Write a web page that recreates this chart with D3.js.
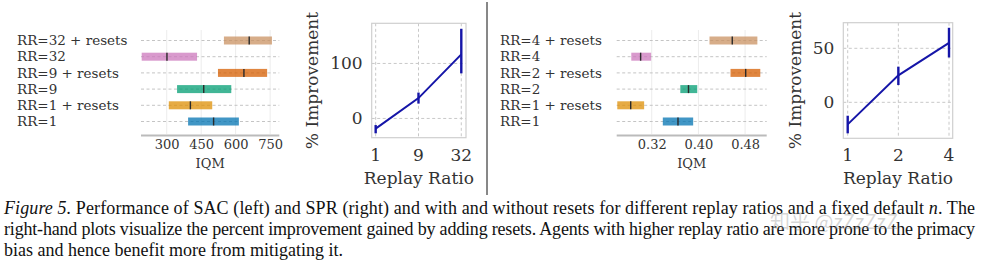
<!DOCTYPE html>
<html>
<head>
<meta charset="utf-8">
<script src="https://cdn.jsdelivr.net/npm/d3@7"></script>
<style>
  body { margin: 0; background: #fff; }
</style>
</head>
<body>
<svg id="chart" width="981" height="265"></svg>
<script>
// ---- data (rows listed top to bottom) ----
const sacLabels = ["RR=32 + resets", "RR=32", "RR=9 + resets", "RR=9", "RR=1 + resets", "RR=1"];
const sacLow    = [549, 191, 523, 345, 309, 393];
const sacMed    = [659, 301, 636, 461, 403, 504];
const sacHigh   = [758, 432, 737, 581, 498, 614];
const sacTicks  = [300, 450, 600, 750];

const sprLabels = ["RR=4 + resets", "RR=4", "RR=2 + resets", "RR=2", "RR=1 + resets", "RR=1"];
const sprLow    = [0.419, 0.285, 0.455, 0.369, 0.261, 0.339];
const sprMed    = [0.458, 0.301, 0.481, 0.383, 0.284, 0.365];
const sprHigh   = [0.501, 0.319, 0.506, 0.398, 0.307, 0.391];
const sprTicks  = [0.32, 0.40, 0.48];

// colours per row, top to bottom
const rowColors = ["#ca9161", "#cc78bc", "#d55e00", "#029e73", "#de8f05", "#0173b2"];

const sacRatios   = ["1", "9", "32"];
const sacImpMean  = [-18.5, 37, 116.5];
const sacImpLow   = [-27, 27, 82];
const sacImpHigh  = [-12, 47, 163];
const sacImpTicks = [0, 100];

const sprRatios   = ["1", "2", "4"];
const sprImpMean  = [-20.4, 25, 55];
const sprImpLow   = [-28.7, 16, 41.5];
const sprImpHigh  = [-12.4, 33, 69];
const sprImpTicks = [0, 50];

// caption lines: [text, italic] pieces
const captionLines = [
    [["Figure 5.", true], [" Performance of SAC (left) and SPR (right) and with and without resets for different replay ratios and a fixed default ", false], ["n", true], [". The", false]],
    [["right-hand plots visualize the percent improvement gained by adding resets. Agents with higher replay ratio are more prone to the primacy", false]],
    [["bias and hence benefit more from mitigating it.", false]]
];

const svg = d3.select("#chart");
const serif = "DejaVu Serif, serif";

// interval (IQM) panel
function drawIQM(opt) {
    const g = svg.append("g");
    const x = d3.scaleLinear().domain(opt.domain).range([opt.left, opt.right]);
    const y = d3.scalePoint().domain(opt.labels).range([40.5, 121.5]);

    // faint vertical grid
    g.selectAll(".vgrid").data(opt.ticks).join("line")
        .attr("x1", d => x(d)).attr("x2", d => x(d))
        .attr("y1", 30).attr("y2", 134)
        .attr("stroke", "#ececec").attr("stroke-width", 1);

    // dashed row guides
    g.selectAll(".row").data(opt.labels).join("line")
        .attr("x1", opt.left).attr("x2", opt.right)
        .attr("y1", d => y(d)).attr("y2", d => y(d))
        .attr("stroke", "#bdbdbd").attr("stroke-dasharray", "3,2.5").attr("stroke-width", 0.9);

    // bars
    g.selectAll(".bar").data(opt.labels).join("rect")
        .attr("x", (d, i) => x(opt.low[i]))
        .attr("y", d => y(d) - 4)
        .attr("width", (d, i) => x(opt.high[i]) - x(opt.low[i]))
        .attr("height", 8)
        .attr("fill", (d, i) => rowColors[i])
        .attr("fill-opacity", 0.75);

    // medians
    g.selectAll(".med").data(opt.labels).join("line")
        .attr("x1", (d, i) => x(opt.med[i])).attr("x2", (d, i) => x(opt.med[i]))
        .attr("y1", d => y(d) - 4).attr("y2", d => y(d) + 4)
        .attr("stroke", "#2a2a2a").attr("stroke-width", 1.4);

    // row labels, left aligned
    g.selectAll(".lab").data(opt.labels).join("text")
        .attr("x", opt.labelX).attr("y", d => y(d)).attr("dy", "0.35em")
        .attr("font-family", serif).attr("font-size", 13.5).attr("fill", "#333")
        .text(d => d);

    // bottom axis
    const ax = g.append("g").attr("transform", "translate(0,135.5)")
        .call(d3.axisBottom(x).tickValues(opt.ticks).tickFormat(opt.fmt).tickSize(0).tickPadding(4));
    ax.select(".domain").attr("stroke", "#bbb").attr("stroke-width", 2)
        .attr("d", `M${opt.left},0H${opt.right}`);
    ax.selectAll("text").attr("font-family", serif).attr("font-size", 13).attr("fill", "#333");

    g.append("text")
        .attr("x", (opt.left + opt.right) / 2).attr("y", 163).attr("dy", "0.35em")
        .attr("text-anchor", "middle")
        .attr("font-family", serif).attr("font-size", 13).attr("fill", "#333")
        .text("IQM");
}

// percent improvement panel
function drawImp(opt) {
    const g = svg.append("g");
    const x = d3.scaleLinear().domain(opt.xdom).range([opt.left, opt.right]);
    const y = d3.scaleLinear().domain(opt.ydom).range([opt.bottom, opt.top]);
    const idx = opt.ratios.map((d, i) => i);

    g.selectAll(".vg").data(idx).join("line")
        .attr("x1", d => x(d)).attr("x2", d => x(d))
        .attr("y1", opt.top).attr("y2", opt.bottom)
        .attr("stroke", "#c8c8c8").attr("stroke-dasharray", "3,2.5");
    g.selectAll(".hg").data(opt.yticks).join("line")
        .attr("x1", opt.left).attr("x2", opt.right)
        .attr("y1", d => y(d)).attr("y2", d => y(d))
        .attr("stroke", "#c8c8c8").attr("stroke-dasharray", "3,2.5");

    g.append("rect")
        .attr("x", opt.left).attr("y", opt.top)
        .attr("width", opt.right - opt.left).attr("height", opt.bottom - opt.top)
        .attr("fill", "none").attr("stroke", "#cfcfcf").attr("stroke-width", 1.2);

    const line = d3.line().x(d => x(d)).y(d => y(opt.mean[d]));
    g.append("path").datum(idx)
        .attr("d", line).attr("fill", "none")
        .attr("stroke", "#1515a8").attr("stroke-width", 2);

    g.selectAll(".err").data(idx).join("line")
        .attr("x1", d => x(d)).attr("x2", d => x(d))
        .attr("y1", d => y(opt.low[d])).attr("y2", d => y(opt.high[d]))
        .attr("stroke", "#1515a8").attr("stroke-width", 2.4);

    g.selectAll(".yt").data(opt.yticks).join("text")
        .attr("x", opt.left - 9).attr("y", d => y(d)).attr("dy", "0.35em")
        .attr("text-anchor", "end")
        .attr("font-family", serif).attr("font-size", 17).attr("fill", "#333")
        .text(d => d);
    g.selectAll(".xt").data(idx).join("text")
        .attr("x", d => x(d)).attr("y", 155).attr("dy", "0.35em")
        .attr("text-anchor", "middle")
        .attr("font-family", serif).attr("font-size", 17).attr("fill", "#333")
        .text(d => opt.ratios[d]);

    g.append("text")
        .attr("x", (opt.left + opt.right) / 2).attr("y", 178).attr("dy", "0.35em")
        .attr("text-anchor", "middle")
        .attr("font-family", serif).attr("font-size", 17).attr("fill", "#333")
        .text("Replay Ratio");
    g.append("text")
        .attr("transform", `translate(${opt.ylabX},${(opt.top + opt.bottom) / 2}) rotate(-90)`)
        .attr("dy", "0.35em").attr("text-anchor", "middle")
        .attr("font-family", serif).attr("font-size", 17).attr("fill", "#333")
        .text("% Improvement");
}

drawIQM({ labels: sacLabels, low: sacLow, med: sacMed, high: sacHigh, ticks: sacTicks,
          domain: [188, 790], left: 141, right: 279.3, labelX: 17, fmt: d3.format("d") });
drawIQM({ labels: sprLabels, low: sprLow, med: sprMed, high: sprHigh, ticks: sprTicks,
          domain: [0.26, 0.517], left: 616.7, right: 766.7, labelX: 500, fmt: d3.format(".2f") });

drawImp({ ratios: sacRatios, mean: sacImpMean, low: sacImpLow, high: sacImpHigh, yticks: sacImpTicks,
          xdom: [-0.093, 2.11], ydom: [-35, 173], left: 371.7, right: 466, top: 23.3, bottom: 137.7, ylabX: 312 });
drawImp({ ratios: sprRatios, mean: sprImpMean, low: sprImpLow, high: sprImpHigh, yticks: sprImpTicks,
          xdom: [-0.087, 2.073], ydom: [-33.3, 73.7], left: 843.3, right: 952.7, top: 22.7, bottom: 138.3, ylabX: 795 });

// divider between the two halves
svg.append("line").attr("x1", 487).attr("x2", 487).attr("y1", 2).attr("y2", 195)
    .attr("stroke", "#111").attr("stroke-width", 1);

// caption, first two lines justified to full width
const cap = svg.append("g")
    .attr("font-family", "Liberation Serif, Times New Roman, serif")
    .attr("font-size", 18).attr("fill", "#111");
captionLines.forEach((pieces, li) => {
    const t = cap.append("text").attr("x", 4).attr("y", 214 + li * 21);
    if (li < 2) t.attr("textLength", 971).attr("lengthAdjust", "spacing");
    pieces.forEach(p => {
        t.append("tspan").attr("font-style", p[1] ? "italic" : null).text(p[0]);
    });
});

// faint watermark
svg.append("text").attr("x", 770).attr("y", 222).attr("dy", "0.35em")
    .attr("font-family", "Noto Sans CJK SC, sans-serif").attr("font-size", 20)
    .attr("fill", "#888").attr("fill-opacity", 0.35)
    .text("知乎 @zZzZzZ");
</script>
</body>
</html>
